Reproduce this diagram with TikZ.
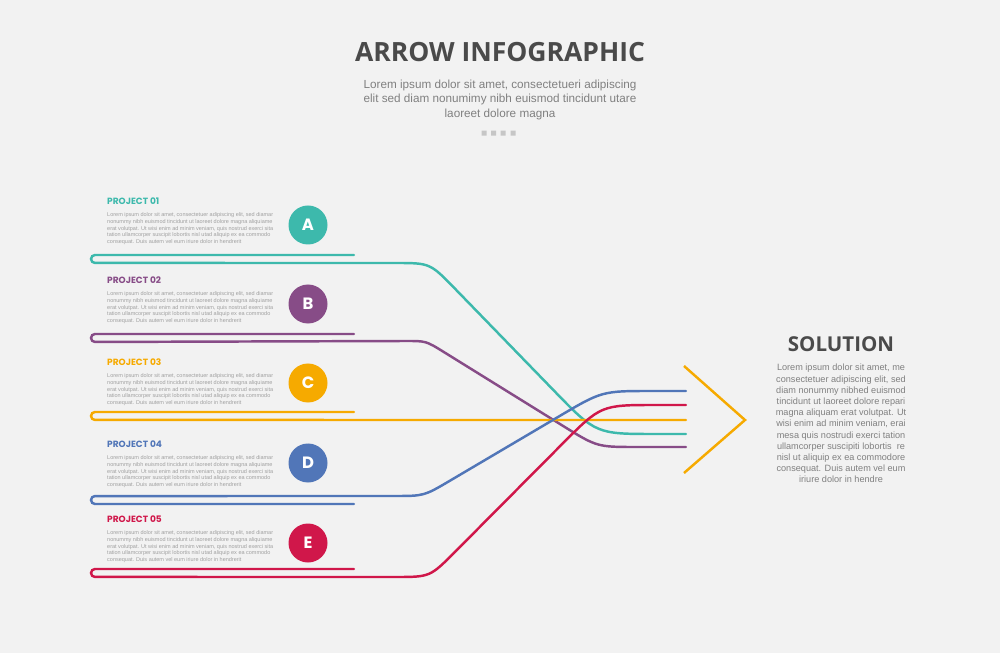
\documentclass[tikz,border=0pt]{standalone}
\usepackage{fontspec}
\setmainfont{Liberation Sans}
\newfontfamily\headfont{Open Sans}
\newfontfamily\popfont{Poppins}
\definecolor{bgcol}{HTML}{F2F2F2}
\definecolor{headgray}{HTML}{4A4A4A}
\definecolor{subgray}{HTML}{808080}
\definecolor{bodygray}{HTML}{A0A0A0}
\definecolor{dotgray}{HTML}{C6C6C6}
\definecolor{tealc}{HTML}{3DB9AC}
\definecolor{purplec}{HTML}{874C87}
\definecolor{yellowc}{HTML}{F6AA00}
\definecolor{bluec}{HTML}{5176B8}
\definecolor{redc}{HTML}{D0174A}

\begin{document}
\begin{tikzpicture}[x=0.03cm,y=-0.03cm,
    wire/.style={line width=2.1pt,line cap=round},
    badge/.style={circle,fill=#1,text=white,inner sep=0,minimum size=1.17cm,
      font=\popfont\bfseries\fontsize{14}{14}\selectfont},
    projtitle/.style={anchor=west,inner sep=0,text=#1,
      font=\popfont\bfseries\fontsize{7.7}{8}\selectfont},
    projbody/.style={anchor=north west,inner sep=0,align=left,text=bodygray,
      font=\fontsize{4.7}{5.76}\selectfont}]
    \providecommand{\loremtext}{Lorem ipsum dolor sit amet, consectetuer adipiscing elit, sed diamar\\
      nonummy nibh euismod tincidunt ut laoreet dolore magna aliquiame\\
      erat volutpat. Ut wisi enim ad minim veniam, quis nostrud exerci sita\\
      tation ullamcorper suscipit lobortis nisl utad aliquip ex ea commodo\\
      consequat. Duis autem vel eum iriure dolor in hendrerit}
    \pgfmathsetmacro{\endrad}{3.4}
    % background and frame
    \fill[bgcol] (0,0) rectangle (1000,653);
    \useasboundingbox (0,0) rectangle (1000,653);
    % header
    \node[text=headgray,font=\headfont\bfseries\fontsize{22.6}{24}\selectfont,inner sep=0] (title) at (500,52.5) {ARROW INFOGRAPHIC};
    \node[anchor=north,text=subgray,align=center,inner sep=0,font=\fontsize{10}{12.4}\selectfont] (subtitle) at (500,79.5)
      {Lorem ipsum dolor sit amet, consectetueri adipiscing\\elit sed diam nonumimy nibh euismod tincidunt utare\\laoreet dolore magna};
    \fill[dotgray] (481.7,130.7) rectangle ++(5,5) (491,130.7) rectangle ++(5,5)
      (500.7,130.7) rectangle ++(5,5) (510.7,130.7) rectangle ++(5,5);
    % projects
    \node[projtitle=tealc] (p1) at (107,201) {PROJECT 01};
    \node[projbody] (t1) at (107,212.5) {\loremtext};
    \node[badge=tealc] (A) at (308,225) {A};
    \node[projtitle=purplec] (p2) at (107,280) {PROJECT 02};
    \node[projbody] (t2) at (107,291.5) {\loremtext};
    \node[badge=purplec] (B) at (308,304) {B};
    \node[projtitle=yellowc] (p3) at (107,362) {PROJECT 03};
    \node[projbody] (t3) at (107,373.5) {\loremtext};
    \node[badge=yellowc] (C) at (308,383) {C};
    \node[projtitle=bluec] (p4) at (107,444) {PROJECT 04};
    \node[projbody] (t4) at (107,455.5) {\loremtext};
    \node[badge=bluec] (D) at (308,463) {D};
    \node[projtitle=redc] (p5) at (107,519) {PROJECT 05};
    \node[projbody] (t5) at (107,530.5) {\loremtext};
    \node[badge=redc] (E) at (308,543) {E};
    % wire ends
    \coordinate (a-stub) at (354,255);
    \coordinate (b-stub) at (354,334);
    \coordinate (c-stub) at (354,412);
    \coordinate (d-stub) at (354,504);
    \coordinate (e-stub) at (354,569);
    \coordinate (a-out) at (686,434);
    \coordinate (b-out) at (686,447);
    \coordinate (c-out) at (686,420);
    \coordinate (d-out) at (686,391);
    \coordinate (e-out) at (686,405);
    \coordinate (tip) at (745,420);
    % wires
    \draw[wire,tealc] (a-stub) -- (95,255) arc[start angle=90,end angle=270,radius=\endrad pt]
      -- (395,263) .. controls (430,263) .. (454.4,288.1) -- (554.2,390.9) .. controls (596,434) .. (656,434) -- (a-out);
    \draw[wire,purplec] (b-stub) -- (95,334) arc[start angle=90,end angle=270,radius=\endrad pt]
      -- (406,341) .. controls (426,341) .. (443,351.5) -- (563,425.9) .. controls (597,447) .. (637,447) -- (b-out);
    \draw[wire,yellowc] (c-stub) -- (95,412) arc[start angle=90,end angle=270,radius=\endrad pt] -- (c-out);
    \draw[wire,redc] (e-stub) -- (95,569) arc[start angle=90,end angle=270,radius=\endrad pt]
      -- (395,577) .. controls (430,577) .. (454.7,552.2) -- (562.2,444) .. controls (601,405) .. (656,405) -- (e-out);
    \draw[wire,bluec] (d-stub) -- (95,504) arc[start angle=270,end angle=90,radius=\endrad pt]
      -- (394,496) .. controls (424,496) .. (449.8,480.8) -- (559,416.4) .. controls (602,391) .. (652,391) -- (d-out);
    % arrow head
    \draw[wire,yellowc,line cap=butt,miter limit=10] (684,366) -- (tip) -- (684,473);
    % solution
    \node[text=headgray,font=\headfont\bfseries\fontsize{17.5}{18}\selectfont,inner sep=0] (sol) at (841,344) {SOLUTION};
    \node[anchor=north,text=subgray,align=center,inner sep=0,font=\fontsize{7.8}{9.56}\selectfont] (soltext) at (841,364)
      {Lorem ipsum dolor sit amet, me\\consectetuer adipiscing elit, sed\\diam nonummy nibhed euismod\\
       tincidunt ut laoreet dolore repari\\magna aliquam erat volutpat. Ut\\wisi enim ad minim veniam, erai\\
       mesa quis nostrudi exerci tation\\ullamcorper suscipiti lobortis~ re\\nisl ut aliquip ex ea commodore\\
       consequat. Duis autem vel eum\\iriure dolor in hendre};
\end{tikzpicture}
\end{document}
